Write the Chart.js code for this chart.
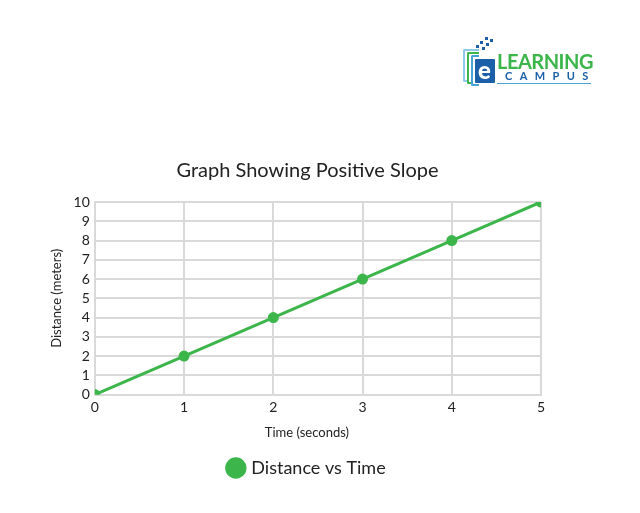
<!DOCTYPE html>
<html>
<head>
<meta charset="utf-8">
<script src="https://cdn.jsdelivr.net/npm/chart.js@4/dist/chart.umd.min.js"></script>
<style>
  html, body { margin: 0; padding: 0; background: #fff; }
  #wrap { position: relative; width: 640px; height: 513px; }
  #c { position: absolute; left: 0; top: 0; }
  .logo { position: absolute; left: 460px; top: 34px; width: 140px; height: 52px; font-family: 'Lato', sans-serif; }
  .dot { position: absolute; width: 3px; height: 3px; background: #1a5fa8; }
  .pg { position: absolute; border: 2px solid; border-right: none; border-radius: 2px 0 0 2px; background: #fff; }
  .cover { position: absolute; left: 15px; top: 25px; width: 20px; height: 24px; background: #1a5fa8; border-radius: 1px; }
  .e { position: absolute; left: 18px; top: 23px; color: #fff; font-weight: 900; font-size: 24px; line-height: 26px; }
  .learn { position: absolute; left: 37px; top: 16px; color: #3cb54a; font-weight: 700; font-size: 20px; line-height: 22px; letter-spacing: -0.5px; }
  .camp { position: absolute; left: 45px; top: 36px; color: #1a5fa8; font-weight: 700; font-size: 11px; line-height: 12px; letter-spacing: 7.4px; }
  .uline { position: absolute; left: 37px; top: 49px; width: 94px; height: 1px; background: #4aa3d8; }
</style>
</head>
<body>
<div id="wrap">
  <canvas id="c" width="640" height="513"></canvas>
  <div class="logo">
    <div class="dot" style="left:25px;top:3px"></div>
    <div class="dot" style="left:30px;top:5px"></div>
    <div class="dot" style="left:20px;top:7px"></div>
    <div class="dot" style="left:26px;top:9px"></div>
    <div class="dot" style="left:16px;top:11px"></div>
    <div class="dot" style="left:22px;top:13px"></div>
    <div class="pg" style="left:3px;top:15px;width:14px;height:29px;border-color:#8fcbe8"></div>
    <div class="pg" style="left:7px;top:18px;width:10px;height:28px;border-color:#3cb54a"></div>
    <div class="pg" style="left:11px;top:21px;width:6px;height:27px;border-color:#4aa3d8"></div>
    <div class="cover"></div>
    <div class="e">e</div>
    <div class="learn">LEARNING</div>
    <div class="camp">CAMPUS</div>
    <div class="uline"></div>
  </div>
</div>
<script>
const times = [0, 1, 2, 3, 4, 5];
const distances = [0, 2, 4, 6, 8, 10];
const seriesLabel = 'Distance vs Time';
const chartTitle = 'Graph Showing Positive Slope';
const xTitle = 'Time (seconds)';
const yTitle = 'Distance (meters)';

const green = '#3cb54a';
const fontFamily = "'Lato', 'Open Sans', sans-serif";

// Shift the title/legend centers and x-axis title to match the reference's centring
const centerShift = {
  id: 'centerShift',
  afterLayout(chart) {
    const dx = 15;
    [chart.titleBlock, chart.legend].forEach(b => {
      if (b) { b.left += dx; b.right += dx; }
    });
    const s = chart.scales.x;
    if (!s._shiftPatched) {
      const orig = s.drawTitle;
      s.drawTitle = function () {
        this.ctx.save();
        this.ctx.translate(-11, 0);
        orig.apply(this, arguments);
        this.ctx.restore();
      };
      s._shiftPatched = true;
    }
  }
};

new Chart(document.getElementById('c'), {
  type: 'line',
  data: {
    datasets: [{
      label: seriesLabel,
      data: times.map((t, i) => ({ x: t, y: distances[i] })),
      borderColor: green,
      backgroundColor: green,
      borderWidth: 3,
      pointRadius: 4,
      pointBackgroundColor: green,
      pointBorderColor: green,
      tension: 0
    }]
  },
  plugins: [centerShift],
  options: {
    responsive: false,
    animation: false,
    devicePixelRatio: 1,
    layout: { padding: { top: 159, right: 99, left: 44, bottom: 26 } },
    plugins: {
      title: {
        display: true,
        text: chartTitle,
        color: '#222',
        font: { family: fontFamily, size: 20, weight: 'normal' },
        padding: { top: 0, bottom: 19 }
      },
      legend: {
        position: 'bottom',
        labels: {
          usePointStyle: true,
          pointStyle: 'circle',
          boxWidth: 13,
          boxHeight: 13,
          color: '#222',
          padding: 18,
          font: { family: fontFamily, size: 18 }
        }
      },
      tooltip: { enabled: false }
    },
    scales: {
      x: {
        type: 'linear',
        min: 0,
        max: 5,
        ticks: { stepSize: 1, autoSkip: false, color: '#222', padding: 4, font: { family: fontFamily, size: 14 } },
        grid: { color: '#d9d9d9', lineWidth: 2, drawTicks: false },
        border: { color: '#d9d9d9', width: 2 },
        title: { display: true, text: xTitle, color: '#222', padding: { top: 6, bottom: 0 }, font: { family: fontFamily, size: 13 } }
      },
      y: {
        min: 0,
        max: 10,
        ticks: { stepSize: 1, autoSkip: false, color: '#222', padding: 5, font: { family: fontFamily, size: 14 } },
        grid: { color: '#d9d9d9', lineWidth: 2, drawTicks: false },
        border: { color: '#d9d9d9', width: 2 },
        title: { display: true, text: yTitle, color: '#222', padding: { top: 5, bottom: 4 }, font: { family: fontFamily, size: 13 } }
      }
    }
  }
});
</script>
</body>
</html>
